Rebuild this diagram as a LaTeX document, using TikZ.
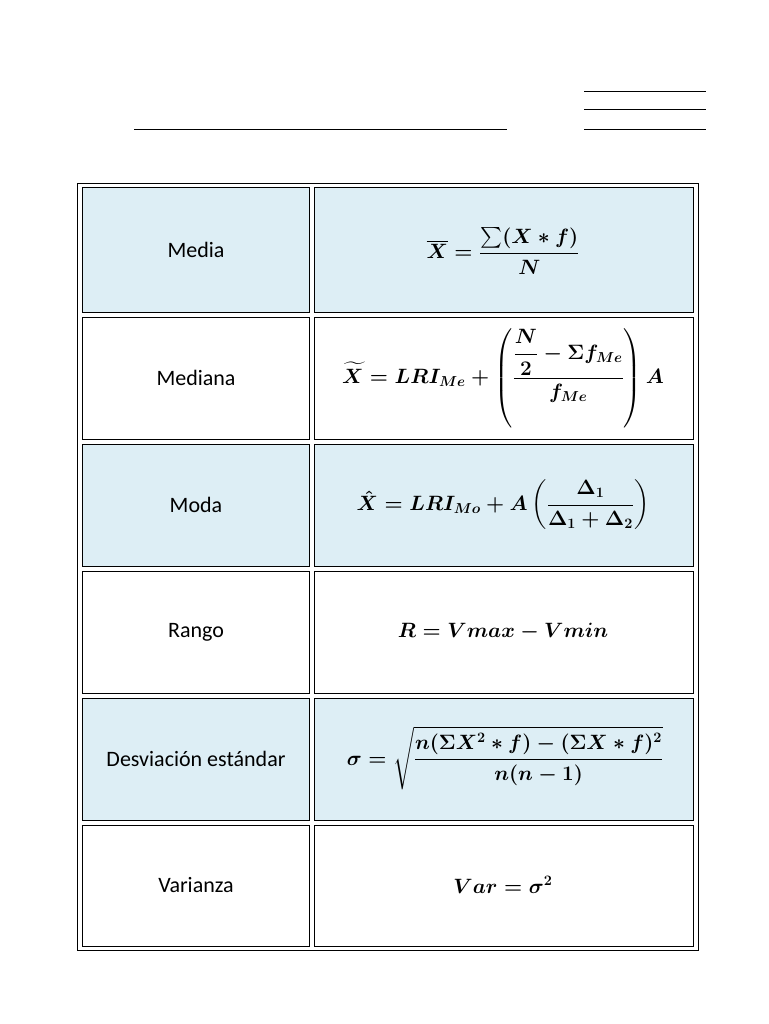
\documentclass[tikz,border=0pt]{standalone}
\usepackage{amsmath}
\usepackage{fontspec}
\setmainfont{Carlito}
\definecolor{cellblue}{HTML}{DDEEF5}
\begin{document}
\begin{tikzpicture}[x=1pt,y=-1pt,
  cellb/.style={draw=black,line width=0.8pt},
  lbl/.style={font=\fontsize{22}{26}\selectfont},
  frm/.style={font=\fontsize{21}{25}\selectfont\boldmath}]
\useasboundingbox (0,0) rectangle (768,1024);
\fill[white] (0,0) rectangle (768,1024);
\draw[line width=0.8pt] (134,129) -- (507,129);
\foreach \y in {91,109,129} \draw[line width=0.8pt] (584,\y) -- (706,\y);
\draw[line width=1pt] (77,184) rectangle (698,950);
\def\rows{{184,314,441,568,695,822,948}}
\foreach \i/\lab/\c in {0/Media/cellblue,1/Mediana/white,2/Moda/cellblue,3/Rango/white,4/Desviación estándar/cellblue,5/Varianza/white}{
  \pgfmathsetmacro{\ya}{\rows[\i]+3}
  \pgfmathsetmacro{\yb}{\rows[\i+1]-2}
  \draw[cellb,fill=\c] (82,\ya) rectangle (309,\yb);
  \draw[cellb,fill=\c] (314,\ya) rectangle (693,\yb);
  \node[lbl] (l\i) at (196,{(\ya+\yb)/2}) {\lab};
}
\node[frm] (f0) at (503,251) {$\overline{X}=\dfrac{\sum(X*f)}{N}$};
\node[frm] (f1) at (503,378) {$\widetilde{X}=LRI_{Me}+\left(\dfrac{\dfrac{N}{2}-\Sigma f_{Me}}{f_{Me}}\right)A$};
\node[frm] (f2) at (503,505) {$\hat{X}=LRI_{Mo}+A\left(\dfrac{\Delta_1}{\Delta_1+\Delta_2}\right)$};
\node[frm] (f3) at (503,632) {$R=Vmax-Vmin$};
\node[frm] (f4) at (505,758) {$\sigma=\sqrt{\dfrac{n(\Sigma X^2*f)-(\Sigma X*f)^2}{n(n-1)}}$};
\node[frm] (f5) at (503,885) {$Var=\sigma^2$};
\end{tikzpicture}
\end{document}
